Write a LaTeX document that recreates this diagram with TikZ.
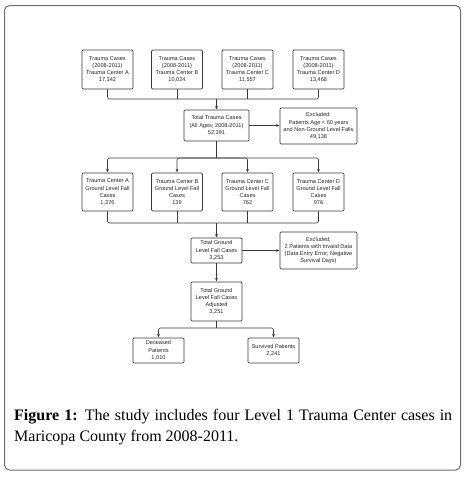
\documentclass[tikz,border=0pt]{standalone}
\usepackage{fontspec}
\setmainfont{Liberation Serif}
\newfontfamily\boxfont{Liberation Sans}
\usetikzlibrary{arrows.meta}
\definecolor{lineg}{HTML}{3A3A3A}
\definecolor{frameg}{HTML}{6E6E6E}
\tikzset{
  fbox/.style={draw=lineg, line width=0.75pt, rounded corners=1.2pt, align=center,
    inner sep=0.5pt, font=\boxfont\fontsize{5.6}{7.2}\selectfont, text=black!85},
  sbox/.style={fbox, minimum width=51pt},
  conn/.style={draw=lineg, line width=0.6pt, rounded corners=2pt},
  arr/.style={conn, -{Latex[length=3.2pt,width=2.8pt]}}
}
\begin{document}
\begin{tikzpicture}[x=1pt,y=-1pt]
\useasboundingbox (0,0) rectangle (465,477);
\draw[frameg, line width=1pt, rounded corners=5pt] (4.5,5.5) rectangle (460.5,470);

% top row
\node[sbox, minimum height=39pt] (A) at (107.5,69.5) {Trauma Cases\\(2008-2011)\\Trauma Center A\\17,342};
\node[sbox, minimum height=39pt] (B) at (177,69.5) {Trauma Cases\\(2008-2011)\\Trauma Center B\\10,024};
\node[sbox, minimum height=39pt] (C) at (247.5,69.5) {Trauma Cases\\(2008-2011)\\Trauma Center C\\11,557};
\node[sbox, minimum height=39pt] (D) at (318.5,69.5) {Trauma Cases\\(2008-2011)\\Trauma Center D\\13,468};

\node[fbox, minimum width=65pt, minimum height=31pt] (T) at (216.5,125.5) {Total Trauma Cases\\(All Ages; 2008-2011)\\52,391};
\node[fbox, minimum width=77pt, minimum height=36pt] (E1) at (318.5,126) {Excluded:\\Patients Age < 60 years\\and Non-Ground Level Falls\\49,138};

% second row
\node[sbox, minimum height=38pt] (A2) at (107.5,192) {Trauma Center A\\Ground Level Fall\\Cases\\1,376};
\node[sbox, minimum height=38pt] (B2) at (177,192) {Trauma Center B\\Ground Level Fall\\Cases\\139};
\node[sbox, minimum height=38pt] (C2) at (247.5,192) {Trauma Center C\\Ground Level Fall\\Cases\\762};
\node[sbox, minimum height=38pt] (D2) at (318.5,192) {Trauma Center D\\Ground Level Fall\\Cases\\976};

\node[sbox, minimum height=25pt] (G) at (216.5,250.5) {Total Ground\\Level Fall Cases\\3,253};
\node[fbox, minimum width=77pt, minimum height=37pt] (E2) at (318.5,250.5) {Excluded:\\2 Patients with Invalid Data\\(Data Entry Error; Negative\\Survival Days)};

\node[sbox, minimum height=39pt] (J) at (216.5,301.5) {Total Ground\\Level Fall Cases\\Adjusted\\3,251};

\node[sbox, minimum height=25pt] (P) at (158.5,350.5) {Deceased\\Patients\\1,010};
\node[sbox, minimum height=25pt] (S) at (273.5,350.5) {Survived Patients\\2,241};

% connectors
\coordinate (b1) at (216.5,99);
\draw[conn] (A.south) |- (b1);
\draw[conn] (D.south) |- (b1);
\draw[conn] (B.south) -- (B.south |- b1);
\draw[conn] (C.south) -- (C.south |- b1);
\draw[arr] (b1) -- (T.north);

\draw[arr] (T.east) -- (E1.west |- T.east);

\coordinate (b2) at (216.5,158);
\draw[conn] (T.south) -- (b2);
\draw[arr] (b2) -| (A2.north);
\draw[arr] (b2) -| (B2.north);
\draw[arr] (b2) -| (C2.north);
\draw[arr] (b2) -| (D2.north);

\coordinate (b3) at (216.5,223);
\draw[conn] (A2.south) |- (b3);
\draw[conn] (D2.south) |- (b3);
\draw[conn] (B2.south) -- (B2.south |- b3);
\draw[conn] (C2.south) -- (C2.south |- b3);
\draw[arr] (b3) -- (G.north);

\draw[arr] (G.east) -- (E2.west |- G.east);
\draw[arr] (G.south) -- (J.north);

\coordinate (b4) at (216.5,328);
\draw[conn] (J.south) -- (b4);
\draw[arr] (b4) -| (P.north);
\draw[arr] (b4) -| (S.north);

% caption
\node[anchor=north west, inner sep=0pt, text width=438pt, align=justify,
  font=\fontsize{16}{21}\selectfont] (cap) at (14,409)
  {\textbf{Figure 1:} The study includes four Level 1 Trauma Center cases in\linebreak Maricopa County from 2008-2011.};
\end{tikzpicture}
\end{document}
